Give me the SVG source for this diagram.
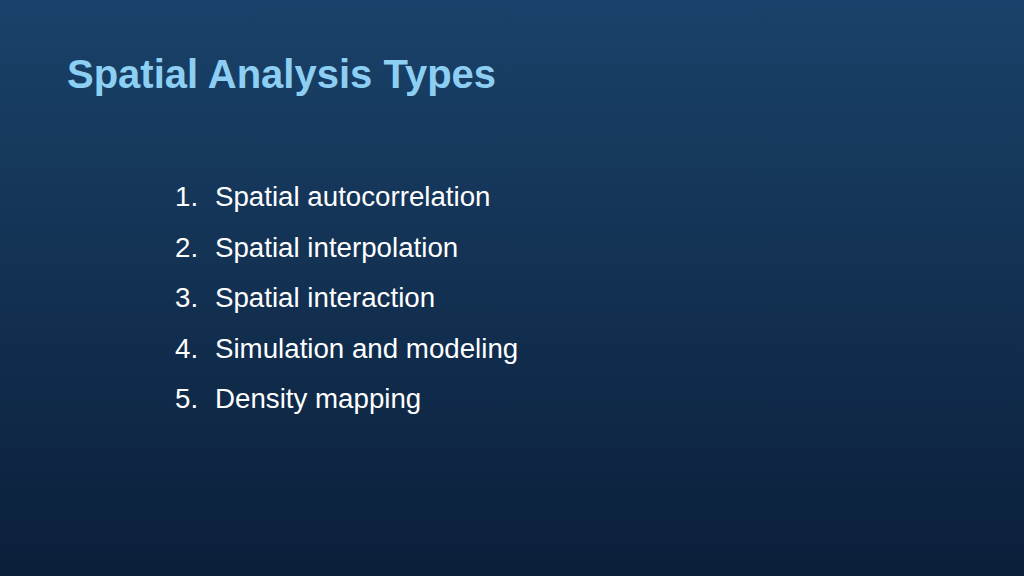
<svg xmlns="http://www.w3.org/2000/svg" width="1024" height="576" viewBox="0 0 1024 576">
<defs>
<linearGradient id="bg" x1="0" y1="0" x2="0" y2="1">
<stop offset="0" stop-color="#1a426a"/>
<stop offset="1" stop-color="#0b1f3a"/>
</linearGradient>
<style>
.t{font-family:"Liberation Sans",Arial,sans-serif;font-weight:bold;font-size:40px;fill:#8dcff3}
.i{font-family:"Liberation Sans",Arial,sans-serif;font-size:27.7px;fill:#ffffff}
</style>
</defs>
<rect width="1024" height="576" fill="url(#bg)"/>
<text class="t" x="67" y="88">Spatial Analysis Types</text>
<g class="i">
<text x="175" y="206">1.</text><text x="215" y="206">Spatial autocorrelation</text>
<text x="175" y="257">2.</text><text x="215" y="257">Spatial interpolation</text>
<text x="175" y="307">3.</text><text x="215" y="307">Spatial interaction</text>
<text x="175" y="358">4.</text><text x="215" y="358">Simulation and modeling</text>
<text x="175" y="408">5.</text><text x="215" y="408">Density mapping</text>
</g>
</svg>
